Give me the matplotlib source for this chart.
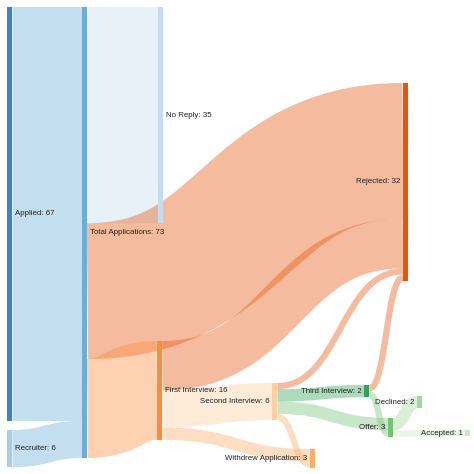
import matplotlib
matplotlib.use("Agg")
import matplotlib.pyplot as plt
from matplotlib.path import Path
from matplotlib.patches import PathPatch, Rectangle
from matplotlib.colors import to_rgba

# ---- data ----
nodes = ["Applied", "Recruiter", "Total Applications", "No Reply", "Rejected",
         "First Interview", "Second Interview", "Withdrew Application",
         "Third Interview", "Offer", "Declined", "Accepted"]
node_colors = ["#3a85c2", "#a9cde8", "#6baed6", "#c6dbef", "#e6550d",
               "#fd8d3c", "#fdd0a2", "#fdae6b", "#31a354", "#74c476",
               "#a1d99b", "#c7e9c0"]
link_source = ["Applied", "Recruiter", "Total Applications", "Total Applications",
               "Total Applications", "First Interview", "First Interview",
               "First Interview", "Second Interview", "Second Interview",
               "Second Interview", "Second Interview", "Third Interview",
               "Third Interview", "Offer", "Offer"]
link_target = ["Total Applications", "Total Applications", "No Reply", "Rejected",
               "First Interview", "Rejected", "Second Interview",
               "Withdrew Application", "Rejected", "Third Interview", "Offer",
               "Withdrew Application", "Rejected", "Offer", "Declined", "Accepted"]
link_value = [67, 6, 35, 22, 16, 8, 6, 2, 1, 2, 2, 1, 1, 1, 2, 1]

# ---- layout (canvas units, 474 x 474, like plotly node.x / node.y) ----
W = H = 474
node_left = {"Applied": 7, "Recruiter": 7, "Total Applications": 82, "No Reply": 158,
             "Rejected": 403, "First Interview": 157, "Second Interview": 272,
             "Withdrew Application": 310, "Third Interview": 364, "Offer": 388,
             "Declined": 417, "Accepted": 465}
node_top = {"Applied": 7, "Recruiter": 430, "Total Applications": 7, "No Reply": 7,
            "Rejected": 83, "First Interview": 341, "Second Interview": 383,
            "Withdrew Application": 449, "Third Interview": 385, "Offer": 418,
            "Declined": 396, "Accepted": 430}
node_w = 5.5
scale = 451.0 / 73.0
link_alpha = 0.4
DPI = 100
pt_per_unit = 72.0 / DPI

plt.rcParams["font.family"] = ["Liberation Sans", "DejaVu Sans"]
fig = plt.figure(figsize=(W / DPI, H / DPI), dpi=DPI)
ax = fig.add_axes([0, 0, 1, 1])
ax.set_xlim(0, W)
ax.set_ylim(H, 0)
ax.axis("off")

# node values
val = {}
for n in nodes:
    vin = sum(v for s, t, v in zip(link_source, link_target, link_value) if t == n)
    vout = sum(v for s, t, v in zip(link_source, link_target, link_value) if s == n)
    val[n] = max(vin, vout)

color = dict(zip(nodes, node_colors))
links = list(zip(link_source, link_target, link_value))

# band offsets at sources and targets
src_off = {}
tgt_off = {}
for n in nodes:
    outs = sorted([i for i, l in enumerate(links) if l[0] == n], key=lambda i: node_top[links[i][1]])
    y = node_top[n]
    for i in outs:
        src_off[i] = y
        y += links[i][2] * scale
    ins = sorted([i for i, l in enumerate(links) if l[1] == n], key=lambda i: node_top[links[i][0]])
    y = node_top[n]
    for i in ins:
        tgt_off[i] = y
        y += links[i][2] * scale

# links: thick stroked centre-line (like d3 sankeyLinkHorizontal)
for i, (s, t, v) in enumerate(links):
    x0 = node_left[s] + node_w
    x1 = node_left[t]
    xm = (x0 + x1) / 2
    h = v * scale
    y0 = src_off[i] + h / 2
    y1 = tgt_off[i] + h / 2
    verts = [(x0, y0), (xm, y0), (xm, y1), (x1, y1)]
    codes = [Path.MOVETO, Path.CURVE4, Path.CURVE4, Path.CURVE4]
    ax.add_patch(PathPatch(Path(verts, codes), facecolor="none",
                           edgecolor=to_rgba(color[t], link_alpha),
                           linewidth=h * pt_per_unit, capstyle="butt", zorder=1))

for n in nodes:
    h = val[n] * scale
    ax.add_patch(Rectangle((node_left[n], node_top[n]), node_w, h,
                           facecolor=color[n], edgecolor="none", zorder=2))
    yc = node_top[n] + h / 2
    label = f"{n}: {val[n]}"
    if node_left[n] < W / 2:
        ax.text(node_left[n] + node_w + 2.5, yc, label, ha="left", va="center",
                fontsize=5.7, color="#222222", zorder=3)
    else:
        ax.text(node_left[n] - 2.5, yc, label, ha="right", va="center",
                fontsize=5.7, color="#222222", zorder=3)

fig.savefig("out.png", dpi=DPI)
